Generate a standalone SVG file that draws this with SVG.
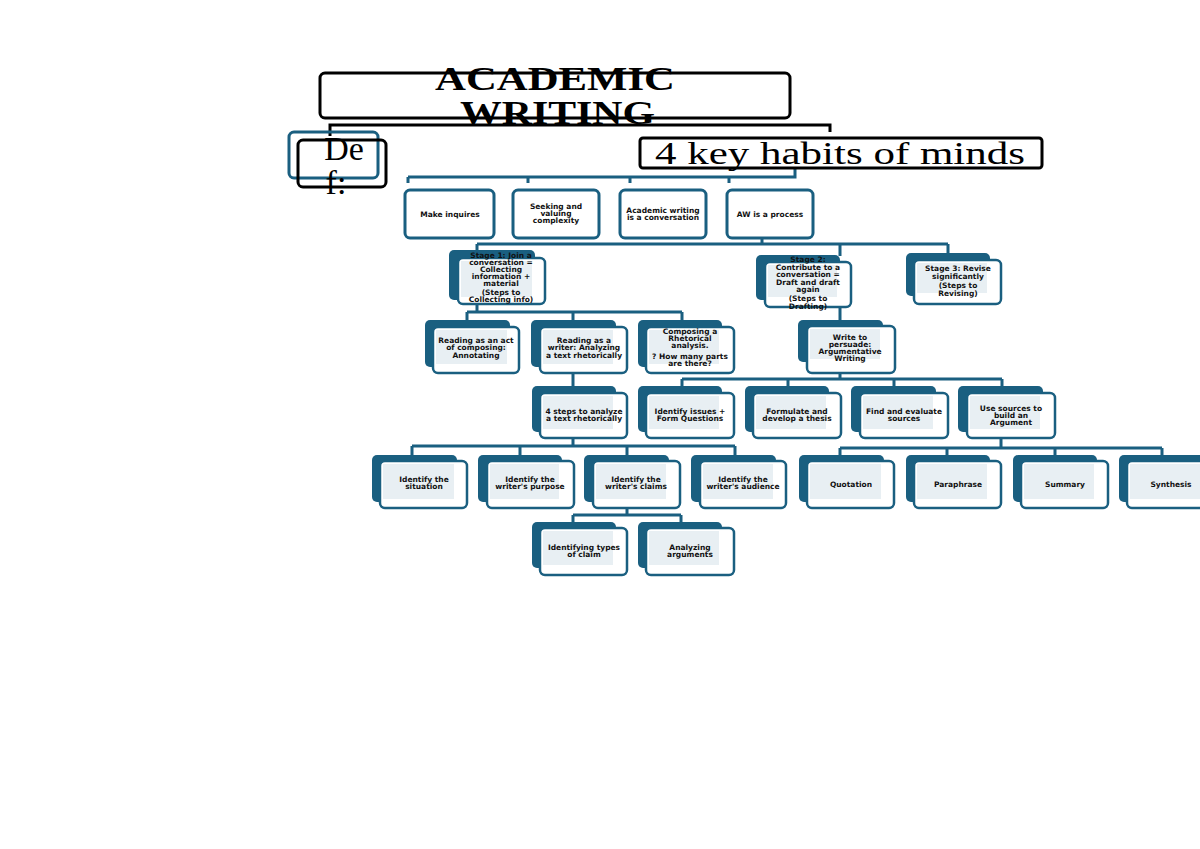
<svg xmlns="http://www.w3.org/2000/svg" width="1200" height="849" viewBox="0 0 1200 849">
<defs><style>
.bk{fill:#1a5f80}
.fr{fill:#fff;stroke:#1a5f80;stroke-width:2.5}
.li{fill:#e8eff3}
.l1{fill:#fff;stroke:#1a5f80;stroke-width:3}
.t{font-family:"DejaVu Sans",sans-serif;font-size:7.5px;font-weight:bold;fill:#111;text-anchor:middle}
.c{fill:none;stroke:#1a5f80;stroke-width:3}
.s{font-family:"Liberation Serif",serif;fill:#000}
</style></defs>
<rect width="1200" height="849" fill="#fff"/>
<g id="title"><rect x="320" y="73" width="470" height="45" rx="5" fill="none" stroke="#000" stroke-width="3"/>
<text class="s" x="435" y="90" font-size="34" font-weight="bold" textLength="240" lengthAdjust="spacingAndGlyphs">ACADEMIC</text>
<text class="s" x="460" y="124" font-size="34" font-weight="bold" textLength="195" lengthAdjust="spacingAndGlyphs">WRITING</text></g>
<g id="connectors">
<path d="M330 136V125H830V132" fill="none" stroke="#000" stroke-width="3"/>
<path class="c" d="M795 168V177H408M408 177V183M528 177V183M630 177V183M729 177V183"/>
<path class="c" d="M762 238V245M477 244H948M477 244V252M840 244V256M948 244V254"/>
<path class="c" d="M477 304V312M467 312H682M467 312V320M573 312V320M682 312V322"/>
<path class="c" d="M573 373V388"/>
<path class="c" d="M573 438V446M412 446H735M412 446V455M520 446V455M627 446V455M735 446V455"/>
<path class="c" d="M627 508V515M573 515H681M573 515V522M681 515V522"/>
<path class="c" d="M840 307V322"/>
<path class="c" d="M840 373V379M682 379H1002M682 379V388M788 379V388M894 379V388M1002 379V388"/>
<path class="c" d="M1001 438V448M840 448H1162M840 448V455M947 448V455M1055 448V455M1162 448V455"/>
</g>
<g id="def"><rect x="289" y="132" width="89" height="46" rx="5" fill="none" stroke="#1a5f80" stroke-width="3"/>
<rect x="298" y="140" width="88" height="47" rx="5" fill="none" stroke="#000" stroke-width="3"/>
<text class="s" x="344" y="160" font-size="34" text-anchor="middle">De</text>
<text class="s" x="336" y="194" font-size="34" text-anchor="middle">f:</text></g>
<g id="habits"><rect x="640" y="138" width="402" height="30" rx="3" fill="#fff" stroke="#000" stroke-width="3"/>
<text class="s" x="655" y="164" font-size="32" textLength="370" lengthAdjust="spacingAndGlyphs">4 key habits of minds</text></g>
<g id="n-inq"><rect class="l1" x="405" y="190" width="89" height="48" rx="5"/><text class="t" x="450" y="217">Make inquires</text></g>
<g id="n-seek"><rect class="l1" x="513" y="190" width="86" height="48" rx="5"/><text class="t" x="556" y="209">Seeking and</text><text class="t" x="556" y="216">valuing</text><text class="t" x="556" y="223">complexity</text></g>
<g id="n-conv"><rect class="l1" x="620" y="190" width="86" height="48" rx="5"/><text class="t" x="663" y="213">Academic writing</text><text class="t" x="663" y="220">is a conversation</text></g>
<g id="n-proc"><rect class="l1" x="727" y="190" width="86" height="48" rx="5"/><text class="t" x="770" y="217">AW is a process</text></g>
<g id="n-s1"><rect class="bk" x="449" y="250" width="86" height="50" rx="5"/><rect class="fr" x="458" y="258" width="87" height="46" rx="5"/><rect class="li" x="461" y="261" width="71" height="36"/>
<text class="t" x="501" y="258">Stage 1: Join a</text><text class="t" x="501" y="265">conversation =</text><text class="t" x="501" y="272">Collecting</text><text class="t" x="501" y="279">information +</text><text class="t" x="501" y="286">material</text><text class="t" x="501" y="295">(Steps to</text><text class="t" x="501" y="302">Collecting info)</text></g>
<g id="n-s2"><rect class="bk" x="756" y="255" width="84" height="45" rx="5"/><rect class="fr" x="765" y="262" width="86" height="45" rx="5"/><rect class="li" x="768" y="265" width="69" height="32"/>
<text class="t" x="808" y="262">Stage 2:</text><text class="t" x="808" y="270">Contribute to a</text><text class="t" x="808" y="277">conversation =</text><text class="t" x="808" y="285">Draft and draft</text><text class="t" x="808" y="292">again</text><text class="t" x="808" y="301">(Steps to</text><text class="t" x="808" y="309">Drafting)</text></g>
<g id="n-s3"><rect class="bk" x="906" y="253" width="84" height="43" rx="5"/><rect class="fr" x="914" y="260" width="87" height="44" rx="5"/><rect class="li" x="917" y="263" width="70" height="30"/>
<text class="t" x="958" y="271">Stage 3: Revise</text><text class="t" x="958" y="279">significantly</text><text class="t" x="958" y="288">(Steps to</text><text class="t" x="958" y="296">Revising)</text></g>
<g id="n-annot"><rect class="bk" x="425" y="320" width="85" height="47" rx="5"/><rect class="fr" x="433" y="327" width="86" height="46" rx="5"/><rect class="li" x="436" y="330" width="71" height="34"/>
<text class="t" x="476" y="343">Reading as an act</text><text class="t" x="476" y="350">of composing:</text><text class="t" x="476" y="358">Annotating</text></g>
<g id="n-rw"><rect class="bk" x="531" y="320" width="85" height="47" rx="5"/><rect class="fr" x="540" y="327" width="87" height="46" rx="5"/><rect class="li" x="543" y="330" width="70" height="34"/>
<text class="t" x="584" y="343">Reading as a</text><text class="t" x="584" y="350">writer: Analyzing</text><text class="t" x="584" y="358">a text rhetorically</text></g>
<g id="n-comp"><rect class="bk" x="638" y="320" width="84" height="47" rx="5"/><rect class="fr" x="646" y="327" width="88" height="46" rx="5"/><rect class="li" x="649" y="330" width="70" height="34"/>
<text class="t" x="690" y="334">Composing a</text><text class="t" x="690" y="341">Rhetorical</text><text class="t" x="690" y="348">analysis.</text><text class="t" x="690" y="359">? How many parts</text><text class="t" x="690" y="366">are there?</text></g>
<g id="n-4steps"><rect class="bk" x="532" y="386" width="84" height="46" rx="5"/><rect class="fr" x="540" y="393" width="87" height="45" rx="5"/><rect class="li" x="543" y="396" width="70" height="33"/>
<text class="t" x="584" y="414">4 steps to analyze</text><text class="t" x="584" y="421">a text rhetorically</text></g>
<g id="n-issues"><rect class="bk" x="638" y="386" width="84" height="46" rx="5"/><rect class="fr" x="646" y="393" width="88" height="45" rx="5"/><rect class="li" x="649" y="396" width="70" height="33"/>
<text class="t" x="690" y="414">Identify issues +</text><text class="t" x="690" y="421">Form Questions</text></g>
<g id="n-thesis"><rect class="bk" x="745" y="386" width="84" height="46" rx="5"/><rect class="fr" x="753" y="393" width="88" height="45" rx="5"/><rect class="li" x="756" y="396" width="70" height="33"/>
<text class="t" x="797" y="414">Formulate and</text><text class="t" x="797" y="421">develop a thesis</text></g>
<g id="n-find"><rect class="bk" x="851" y="386" width="85" height="46" rx="5"/><rect class="fr" x="860" y="393" width="88" height="45" rx="5"/><rect class="li" x="863" y="396" width="70" height="33"/>
<text class="t" x="904" y="414">Find and evaluate</text><text class="t" x="904" y="421">sources</text></g>
<g id="n-use"><rect class="bk" x="958" y="386" width="85" height="46" rx="5"/><rect class="fr" x="967" y="393" width="88" height="45" rx="5"/><rect class="li" x="970" y="396" width="70" height="33"/>
<text class="t" x="1011" y="411">Use sources to</text><text class="t" x="1011" y="418">build an</text><text class="t" x="1011" y="425">Argument</text></g>
<g id="n-sit"><rect class="bk" x="372" y="455" width="85" height="47" rx="5"/><rect class="fr" x="380" y="461" width="87" height="47" rx="5"/><rect class="li" x="383" y="464" width="71" height="35"/>
<text class="t" x="424" y="482">Identify the</text><text class="t" x="424" y="489">situation</text></g>
<g id="n-purp"><rect class="bk" x="478" y="455" width="84" height="47" rx="5"/><rect class="fr" x="487" y="461" width="87" height="47" rx="5"/><rect class="li" x="490" y="464" width="69" height="35"/>
<text class="t" x="530" y="482">Identify the</text><text class="t" x="530" y="489">writer's purpose</text></g>
<g id="n-claims"><rect class="bk" x="584" y="455" width="85" height="47" rx="5"/><rect class="fr" x="593" y="461" width="87" height="47" rx="5"/><rect class="li" x="596" y="464" width="70" height="35"/>
<text class="t" x="636" y="482">Identify the</text><text class="t" x="636" y="489">writer's claims</text></g>
<g id="n-aud"><rect class="bk" x="691" y="455" width="85" height="47" rx="5"/><rect class="fr" x="700" y="461" width="86" height="47" rx="5"/><rect class="li" x="703" y="464" width="70" height="35"/>
<text class="t" x="743" y="482">Identify the</text><text class="t" x="743" y="489">writer's audience</text></g>
<g id="n-quot"><rect class="bk" x="799" y="455" width="85" height="47" rx="5"/><rect class="fr" x="807" y="461" width="87" height="47" rx="5"/><rect class="li" x="810" y="464" width="71" height="35"/><text class="t" x="851" y="487">Quotation</text></g>
<g id="n-para"><rect class="bk" x="906" y="455" width="84" height="47" rx="5"/><rect class="fr" x="914" y="461" width="87" height="47" rx="5"/><rect class="li" x="917" y="464" width="70" height="35"/><text class="t" x="958" y="487">Paraphrase</text></g>
<g id="n-sum"><rect class="bk" x="1013" y="455" width="84" height="47" rx="5"/><rect class="fr" x="1021" y="461" width="87" height="47" rx="5"/><rect class="li" x="1024" y="464" width="70" height="35"/><text class="t" x="1065" y="487">Summary</text></g>
<g id="n-syn"><rect class="bk" x="1119" y="455" width="85" height="47" rx="5"/><rect class="fr" x="1127" y="461" width="87" height="47" rx="5"/><rect class="li" x="1130" y="464" width="71" height="35"/><text class="t" x="1171" y="487">Synthesis</text></g>
<g id="n-types"><rect class="bk" x="532" y="522" width="84" height="46" rx="5"/><rect class="fr" x="540" y="528" width="87" height="47" rx="5"/><rect class="li" x="543" y="531" width="70" height="34"/>
<text class="t" x="584" y="550">Identifying types</text><text class="t" x="584" y="557">of claim</text></g>
<g id="n-arg"><rect class="bk" x="638" y="522" width="84" height="46" rx="5"/><rect class="fr" x="646" y="528" width="88" height="47" rx="5"/><rect class="li" x="649" y="531" width="70" height="34"/>
<text class="t" x="690" y="550">Analyzing</text><text class="t" x="690" y="557">arguments</text></g>
<g id="n-persuade"><rect class="bk" x="798" y="320" width="85" height="42" rx="5"/><rect class="fr" x="807" y="326" width="88" height="47" rx="5"/><rect class="li" x="810" y="329" width="70" height="30"/>
<text class="t" x="850" y="340">Write to</text><text class="t" x="850" y="347">persuade:</text><text class="t" x="850" y="354">Argumentative</text><text class="t" x="850" y="361">Writing</text></g>
</svg>
